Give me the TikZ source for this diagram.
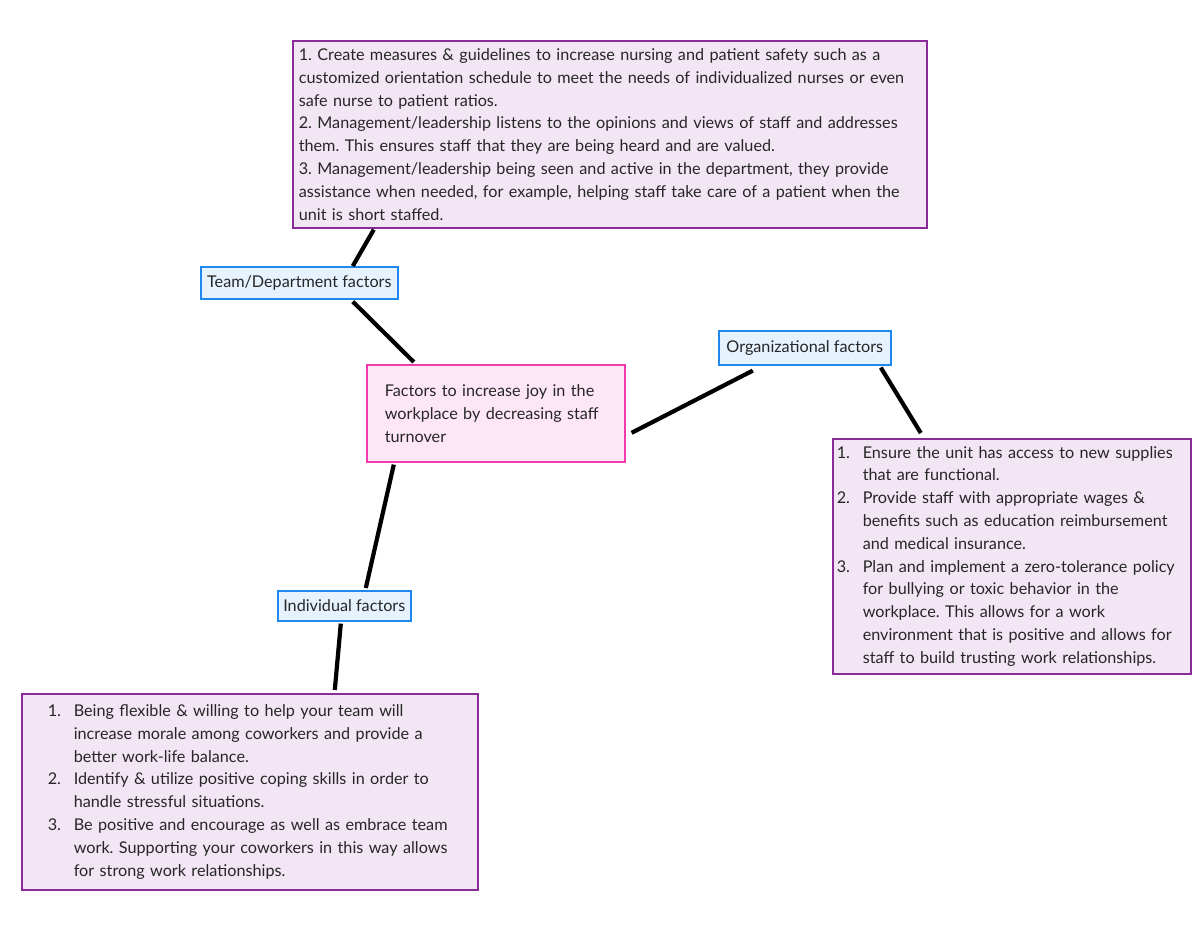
\documentclass[tikz,border=0pt]{standalone}
\usepackage{fontspec}
\setmainfont{Lato}
\frenchspacing
\definecolor{purpB}{HTML}{8B2B9A}
\definecolor{purpF}{HTML}{F2E6F4}
\definecolor{blueB}{HTML}{1E88F0}
\definecolor{blueF}{HTML}{E6F2FE}
\definecolor{pinkB}{HTML}{F03AAE}
\definecolor{pinkF}{HTML}{FDE6F6}
\newlength{\lpad}
\setlength{\lpad}{0pt}
\newcommand{\nbx}[1]{\hspace*{\lpad}\makebox[26pt][l]{#1}}
\newcommand{\myind}{\hspace*{\dimexpr\lpad+26pt\relax}}
\newcommand{\lsp}{\hspace*{\lpad}}
\tikzset{
  txt/.style={font={\fontsize{16.2}{22.8}\selectfont\frenchspacing}, text=black!85, align=left},
  purplebox/.style={txt, draw=purpB, fill=purpF, line width=1.6pt, anchor=north west, inner ysep=0pt},
  bluebox/.style={txt, draw=blueB, fill=blueF, line width=1.6pt, anchor=north west, inner sep=0pt, align=center},
  pinkbox/.style={txt, draw=pinkB, fill=pinkF, line width=1.6pt, anchor=north west, inner ysep=0pt},
  conn/.style={line width=4.2pt, black}
}
\begin{document}
\begin{tikzpicture}[x=1pt,y=-1pt]
\useasboundingbox[fill=white] (0,0) rectangle (1200,927);

\node[purplebox, minimum width=634pt, minimum height=187pt, text width=622pt, inner xsep=6pt] (top) at (292,40)
{1. Create measures \& guidelines to increase nursing and patient safety such as a\\
customized orientation schedule to meet the needs of individualized nurses or even\\
safe nurse to patient ratios.\\
2. Management/leadership listens to the opinions and views of staff and addresses\\
them. This ensures staff that they are being heard and are valued.\\
3. Management/leadership being seen and active in the department, they provide\\
assistance when needed, for example, helping staff take care of a patient when the\\
unit is short staffed.};

\node[bluebox, minimum width=197pt, minimum height=32pt] (team) at (200,266) {Team/Department factors};

\node[pinkbox, minimum width=258pt, minimum height=97pt, text width=246pt, inner xsep=6pt] (central) at (366,364)
{\setlength{\lpad}{12pt}\lsp Factors to increase joy in the\\
\lsp workplace by decreasing staff\\
\lsp turnover};

\node[bluebox, minimum width=172pt, minimum height=34pt] (org) at (718,330) {Organizational factors};

\node[purplebox, minimum width=358pt, minimum height=235pt, text width=350pt, inner xsep=4pt] (right) at (832,438)
{\nbx{1.}Ensure the unit has access to new supplies\\
\myind that are functional.\\
\nbx{2.}Provide staff with appropriate wages \&\\
\myind benefits such as education reimbursement\\
\myind and medical insurance.\\
\nbx{3.}Plan and implement a zero-tolerance policy\\
\myind for bullying or toxic behavior in the\\
\myind workplace. This allows for a work\\
\myind environment that is positive and allows for\\
\myind staff to build trusting work relationships.};

\node[bluebox, minimum width=133pt, minimum height=30pt] (indiv) at (277,590) {Individual factors};

\node[purplebox, minimum width=456pt, minimum height=196pt, text width=444pt, inner xsep=6pt] (bottom) at (21,693)
{\setlength{\lpad}{20pt}\nbx{1.}Being flexible \& willing to help your team will\\
\myind increase morale among coworkers and provide a\\
\myind better work-life balance.\\
\nbx{2.}Identify \& utilize positive coping skills in order to\\
\myind handle stressful situations.\\
\nbx{3.}Be positive and encourage as well as embrace team\\
\myind work. Supporting your coworkers in this way allows\\
\myind for strong work relationships.};

\draw[conn] ([xshift=-236pt,yshift=-1pt]top.south) -- ([xshift=53.5pt]team.north);
\draw[conn] ([xshift=53.5pt,yshift=-2pt]team.south) -- ([xshift=-82pt,yshift=2pt]central.north);
\draw[conn] ([xshift=6pt,yshift=-19.5pt]central.east) -- ([xshift=-52pt,yshift=-5pt]org.south);
\draw[conn] ([xshift=76pt,yshift=-2pt]org.south) -- ([xshift=-91pt,yshift=5pt]right.north);
\draw[conn] ([xshift=-102pt,yshift=-2pt]central.south) -- ([xshift=21.5pt,yshift=2pt]indiv.north);
\draw[conn] ([xshift=-3.5pt,yshift=-2pt]indiv.south) -- ([xshift=85pt,yshift=3pt]bottom.north);
\end{tikzpicture}
\end{document}
